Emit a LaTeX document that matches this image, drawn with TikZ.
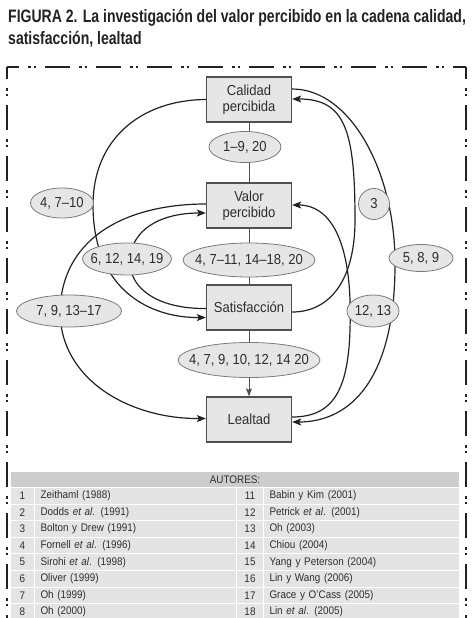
\documentclass[tikz,border=0pt]{standalone}
\usepackage{fontspec}
\setmainfont{Liberation Sans}[FakeStretch=0.9]
\newfontfamily\headfont{Liberation Sans}[FakeStretch=0.78]
\usetikzlibrary{arrows.meta,positioning,shapes.geometric}
\definecolor{Ink}{HTML}{222222}
\definecolor{Edge}{HTML}{505050}
\definecolor{Rim}{HTML}{7A7A7A}
\definecolor{Pale}{HTML}{E6E6E6}
\definecolor{Head}{HTML}{CDCDCD}
\definecolor{Cell}{HTML}{E4E4E4}
\definecolor{Txt}{HTML}{2E2E2E}
\tikzset{
  >={Stealth[length=9pt,width=7pt,inset=2pt]},
  box/.style={draw=Edge,fill=Pale,line width=1.3pt,minimum width=85pt,minimum height=45pt,inner sep=2pt,align=center,text=Txt,font=\fontsize{14.5}{16.5}\selectfont},
  tag/.style={ellipse,draw=Rim,fill=Pale,line width=.8pt,inner sep=0pt,inner xsep=-25pt,text=Txt,font=\fontsize{14.5}{16.5}\selectfont},
  trans/.style={line width=1.2pt,draw=Ink},
  arr/.style={trans,->},
  stem/.style={draw=Edge,line width=.9pt},
  frame/.style={line width=1.8pt,draw=Ink,dash pattern=on 25pt off 9pt on 2.5pt off 3pt on 2.5pt off 9pt,dash phase=13pt},
  title/.style={anchor=base west,inner sep=0pt,text=Ink,font=\headfont\bfseries\fontsize{18}{22}\selectfont},
  head/.style={anchor=north west,fill=Head,draw=white,line width=1pt,minimum width=449pt,minimum height=16pt,inner sep=0pt,text=Txt,font=\fontsize{11}{13}\selectfont},
  numcell/.style={anchor=north west,fill=Cell,draw=white,line width=1pt,minimum height=16.6pt,inner sep=0pt,text=Txt,font=\fontsize{11}{13}\selectfont},
  namecell/.style={numcell,inner xsep=6pt,align=left}
}
\begin{document}
\begin{tikzpicture}[x=1pt,y=1pt]
  \useasboundingbox (0,0) rectangle (474,-618);
  \clip (0,0) rectangle (474,-618);
  \node[title] (t1) at (8,-23) {FIGURA 2. La investigación del valor percibido en la cadena calidad,};
  \node[title] (t2) at (8,-45) {satisfacción, lealtad};
  \draw[frame] (7,-67) -- (466,-67);
  \draw[frame] (7,-67) -- (7,-640);
  \draw[frame] (466,-67) -- (466,-640);

  \node[box] (cal) at (249,-99.5) {Calidad\\percibida};
  \node[box] (val) at (249,-205.5) {Valor\\percibido};
  \node[box] (sat) at (249,-307.5) {Satisfacción};
  \node[box] (lea) at (249,-419.5) {Lealtad};

  \draw[stem] (cal) -- (val);
  \draw[stem] (val) -- (sat);
  \draw[stem,->,>={Stealth[length=8pt,width=6pt,inset=1.5pt]}] (sat) -- (lea);

  \draw[arr] (cal.west) .. controls (140,-100) and (93,-140) .. (93,-205)
    .. controls (93,-290) and (150,-318) .. ([yshift=-10pt]sat.west);
  \draw[arr] ([yshift=-1pt]sat.west) .. controls (160,-309) and (130,-290) .. (130,-262)
    .. controls (130,-230) and (160,-213) .. ([yshift=-7.5pt]val.west);
  \draw[arr] ([yshift=1.5pt]val.west) .. controls (130,-204) and (62,-235) .. (60,-311)
    .. controls (60,-380) and (130,-419) .. ([yshift=1pt]lea.west);
  \draw[arr] ([yshift=10.5pt]cal.east) .. controls (350,-89) and (394,-170) .. (395,-260)
    .. controls (396,-380) and (350,-422) .. ([yshift=-2.5pt]lea.east);
  \draw[arr] ([yshift=-4.5pt]sat.east) .. controls (330,-312) and (355,-280) .. (355,-220)
    .. controls (355,-130) and (345,-99) .. ([yshift=.5pt]cal.east);
  \draw[arr] ([yshift=2.5pt]lea.east) .. controls (340,-417) and (352,-380) .. (350,-300)
    .. controls (348,-240) and (330,-205) .. ([yshift=.5pt]val.east);

  \node[tag,minimum width=72pt,minimum height=31pt] (e1) at (245,-147) {1--9, 20};
  \node[tag,minimum width=132pt,minimum height=34pt] (e2) at (249,-260) {4, 7--11, 14--18, 20};
  \node[tag,minimum width=142pt,minimum height=35pt] (e3) at (249,-360) {4, 7, 9, 10, 12, 14 20};
  \node[tag,minimum width=63pt,minimum height=30pt] (l1) at (62,-203) {4, 7--10};
  \node[tag,minimum width=89pt,minimum height=32pt] (l2) at (127,-259) {6, 12, 14, 19};
  \node[tag,minimum width=105pt,minimum height=32pt] (l3) at (69,-311) {7, 9, 13--17};
  \node[tag,minimum width=31pt,minimum height=31pt] (r1) at (374,-204) {3};
  \node[tag,minimum width=64pt,minimum height=27pt] (r2) at (421,-258) {5, 8, 9};
  \node[tag,minimum width=52pt,minimum height=32pt] (r3) at (373,-311) {12, 13};

  \node[head] (hd) at (10,-471) {AUTORES:};
  \foreach \i/\a/\j/\b [count=\k from 0] in {
    1/{Zeithaml (1988)}/11/{Babin y Kim (2001)},
    2/{Dodds \textit{et al}. (1991)}/12/{Petrick \textit{et al}. (2001)},
    3/{Bolton y Drew (1991)}/13/{Oh (2003)},
    4/{Fornell \textit{et al}. (1996)}/14/{Chiou (2004)},
    5/{Sirohi \textit{et al}. (1998)}/15/{Yang y Peterson (2004)},
    6/{Oliver (1999)}/16/{Lin y Wang (2006)},
    7/{Oh (1999)}/17/{Grace y O'Cass (2005)},
    8/{Oh (2000)}/18/{Lin \textit{et al}. (2005)}} {
    \node[numcell,minimum width=24pt] (n\i) at (10,{-487-16.6*\k}) {\i};
    \node[namecell,text width=190pt] (a\i) at (34,{-487-16.6*\k}) {\a};
    \node[numcell,minimum width=27pt] (n\j) at (236,{-487-16.6*\k}) {\j};
    \node[namecell,text width=184pt] (a\j) at (263,{-487-16.6*\k}) {\b};
  }
\end{tikzpicture}
\end{document}
